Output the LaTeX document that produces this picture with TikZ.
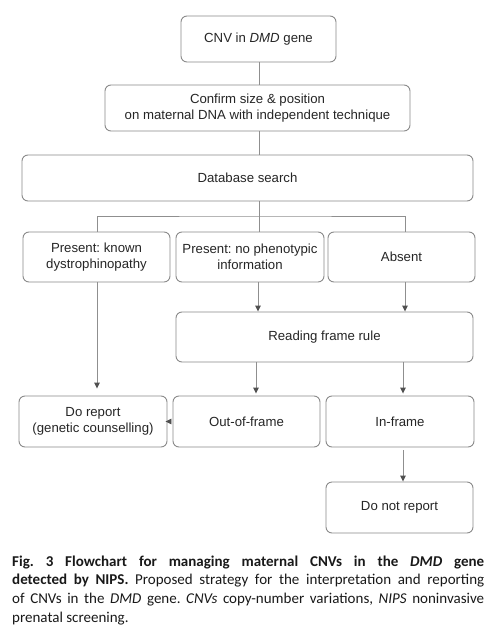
\documentclass[tikz,border=0pt]{standalone}
\usepackage{fontspec}
\setmainfont{Liberation Sans}
\newfontfamily\capfont{Carlito}
\usetikzlibrary{arrows.meta}
\definecolor{boxline}{HTML}{8A8A8A}
\definecolor{connline}{HTML}{8F8F8F}
\definecolor{tipcol}{HTML}{505050}
\tikzset{
  fbox/.style={draw=boxline, line width=0.9pt, rounded corners=6pt, inner sep=0pt,
    align=center, font=\fontsize{13.2}{16}\selectfont, text=black!85},
  conn/.style={draw=connline, line width=0.9pt},
  arr/.style={conn, -{Triangle[width=5.5pt,length=6pt,fill=tipcol,color=tipcol]}},
}
\begin{document}
\frenchspacing
\begin{tikzpicture}[x=1pt,y=-1pt]
\useasboundingbox (0,0) rectangle (492,634);
\fill[white] (0,0) rectangle (492,634);
\node[fbox, minimum width=155pt, minimum height=46pt] (b1) at (258.5,39) {CNV in \textit{DMD} gene};
\node[fbox, minimum width=305pt, minimum height=46pt] (b2) at (257.5,108) {Confirm size \& position\\on maternal DNA with independent technique};
\node[fbox, minimum width=451pt, minimum height=46pt] (b3) at (247.5,178) {Database search};
\node[fbox, minimum width=147pt, minimum height=50pt] (pa) at (96.5,257) {Present: known\\dystrophinopathy};
\node[fbox, minimum width=148pt, minimum height=50pt] (pb) at (250,257) {Present: no phenotypic\\information};
\node[fbox, minimum width=147pt, minimum height=50pt] (pc) at (401.5,257) {Absent};
\node[fbox, minimum width=297pt, minimum height=50pt] (rf) at (324.5,337) {Reading frame rule};
\node[fbox, minimum width=148pt, minimum height=51pt] (dr) at (93,421.5) {Do report\\(genetic counselling)};
\node[fbox, minimum width=147pt, minimum height=51pt] (of) at (246.5,421.5) {Out-of-frame};
\node[fbox, minimum width=148pt, minimum height=51pt] (inf) at (400,421.5) {In-frame};
\node[fbox, minimum width=147pt, minimum height=51pt] (nr) at (399.5,507.5) {Do not report};
\coordinate (split) at (259,216);
% connectors
\draw[conn] (b1.south -| 259,0) -- (b2.north -| 259,0);
\draw[conn] (b2.south -| 259,0) -- (b3.north -| 259,0);
\draw[conn] (b3.south -| split) -- (split);
\draw[conn] (pa.north -| 97,0) |- (split) -| (pc.north -| 405,0);
\draw[conn] (split) -- (pb.north -| split);
\draw[arr] (pb.south -| 258,0) -- (rf.north -| 258,0);
\draw[arr] (pc.south -| 405,0) -- (rf.north -| 405,0);
\draw[arr, shorten >=7pt] (pa.south -| 97,0) -- (dr.north -| 97,0);
\draw[arr, shorten >=2pt] (rf.south -| 256,0) -- (of.north -| 256,0);
\draw[arr, shorten >=2pt] (rf.south -| 403,0) -- (inf.north -| 403,0);
\draw[arr, shorten <=3pt] (of.west) -- ([xshift=-2pt]dr.east);
\draw[arr, shorten <=3pt] (inf.south -| 403,0) -- (nr.north -| 403,0);
% caption
\node[anchor=base west, inner sep=0pt, text width=472pt, align=justify,
  font=\capfont\fontsize{15}{18.7}\selectfont, text=black!90] (cap) at (12,566)
  {\textbf{Fig.\ 3 Flowchart for managing maternal CNVs in the \textit{DMD} gene\linebreak
  detected by NIPS.} Proposed strategy for the interpretation and reporting\linebreak
  of CNVs in the \textit{DMD} gene. \textit{CNVs} copy-number variations, \textit{NIPS} noninvasive\linebreak
  prenatal screening.};
\end{tikzpicture}
\end{document}
